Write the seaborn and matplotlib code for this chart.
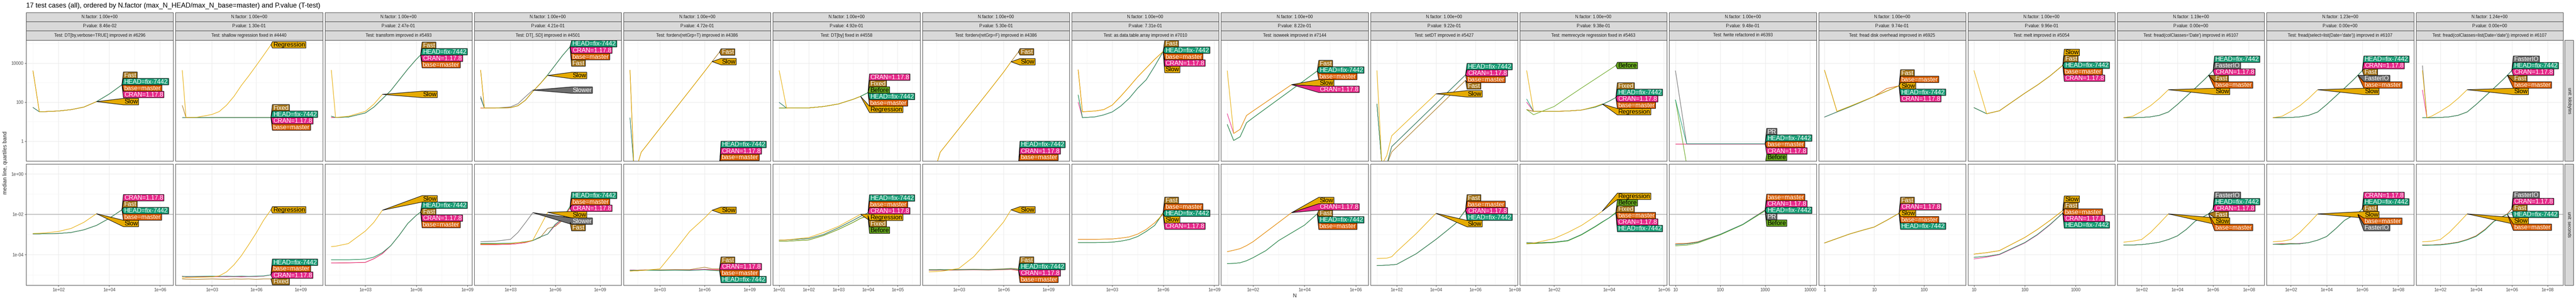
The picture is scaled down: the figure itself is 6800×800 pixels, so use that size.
import numpy as np
import pandas as pd
import matplotlib
matplotlib.use("Agg")
import matplotlib.pyplot as plt
from matplotlib.patches import Rectangle, Polygon
from matplotlib.ticker import FixedLocator, NullFormatter
import seaborn as sns

sns.set_style("white")
plt.rcParams["font.family"] = ["Liberation Sans", "DejaVu Sans"]

H = "HEAD=fix-7442"
B = "base=master"
C = "CRAN=1.17.8"
F = "Fast"
S = "Slow"
X = "Fixed"
R = "Regression"
BF = "Before"
SL = "Slower"
FI = "FasterIO"
PR = "PR"

palette = {H: "#1B9E77", B: "#D95F02", C: "#E7298A", F: "#A6761D", X: "#A6761D",
           S: "#E6AB02", R: "#E6AB02", BF: "#66A61E", SL: "#6E6E6E", FI: "#6E6E6E", PR: "#6E6E6E"}
dark_text = {S, R, BF}
draw_order = [FI, PR, SL, B, C, F, X, BF, H, S, R]

title = "17 test cases (all), ordered by N.factor (max_N_HEAD/max_N_base=master) and P.value (T-test)"
test_names = [
    "Test: DT[by,verbose=TRUE] improved in #6296",
    "Test: shallow regression fixed in #4440",
    "Test: transform improved in #5493",
    "Test: DT[,.SD] improved in #4501",
    "Test: forderv(retGrp=T) improved in #4386",
    "Test: DT[by] fixed in #4558",
    "Test: forderv(retGrp=F) improved in #4386",
    "Test: as.data.table.array improved in #7010",
    "Test: isoweek improved in #7144",
    "Test: setDT improved in #5427",
    "Test: memrecycle regression fixed in #5463",
    "Test: fwrite refactored in #6393",
    "Test: fread disk overhead improved in #6925",
    "Test: melt improved in #5054",
    "Test: fread(colClasses='Date') improved in #6107",
    "Test: fread(select=list(Date='date')) improved in #6107",
    "Test: fread(colClasses=list(Date='date')) improved in #6107",
]
n_factor = [1.0, 1.0, 1.0, 1.0, 1.0, 1.0, 1.0, 1.0, 1.0, 1.0, 1.0, 1.0, 1.0, 1.0, 1.19, 1.23, 1.24]
p_value = [0.0846, 0.130, 0.247, 0.421, 0.472, 0.492, 0.530, 0.731, 0.822, 0.922,
           0.938, 0.948, 0.974, 0.996, 0.0, 0.0, 0.0]

# x axis per panel (log10 limits, tick values, plain labels or not)
x_range = [(0.73, 6.52), (0.54, 10.5), (0.62, 9.27), (0.57, 10.44), (0.57, 10.43),
           (0.79, 5.76), (0.55, 10.42), (0.62, 9.27), (0.76, 6.48), (0.67, 8.14),
           (0.75, 6.11), (0.86, 4.14), (-0.12, 2.84), (0.88, 3.78), (0.64, 8.87),
           (0.64, 8.88), (0.64, 8.87)]
x_ticks = [[1e2, 1e4, 1e6], [1e3, 1e6, 1e9], [1e3, 1e6, 1e9], [1e3, 1e6, 1e9],
           [1e3, 1e6, 1e9], [1e1, 1e2, 1e3, 1e4, 1e5], [1e3, 1e6, 1e9], [1e3, 1e6, 1e9],
           [1e2, 1e4, 1e6], [1e2, 1e4, 1e6, 1e8], [1e2, 1e4, 1e6], [10, 100, 1000, 10000],
           [1, 10, 100], [10, 100, 1000], [1e2, 1e4, 1e6, 1e8], [1e2, 1e4, 1e6, 1e8],
           [1e2, 1e4, 1e6, 1e8]]
x_plain = [False] * 11 + [True, True, True, False, False, False]

units = ["kilobytes", "seconds"]
y_range = {"kilobytes": (-1.01, 5.18), "seconds": (-5.51, 0.49)}
y_ticks = {"kilobytes": [1, 100, 10000], "seconds": [1e-4, 1e-2, 1]}
seconds_limit = 0.01

# ---- measurements: log10(N) and log10(median) per expression ----
p01_logN = [1, 1.25, 1.5, 2, 2.5, 3, 3.5, 4, 4.5]
p01_kb = {
    F: [3.61, 1.51, 1.52, 1.55, 1.62, 1.75, 2.03, 2.42, 2.89],
    H: [1.73, 1.51, 1.52, 1.55, 1.62, 1.75, 2.03, 2.42, 2.89],
    B: [1.73, 1.51, 1.52, 1.55, 1.62, 1.75, 2.03, 2.42, 2.89],
    C: [1.73, 1.51, 1.52, 1.55, 1.62, 1.75, 2.03, 2.42, 2.89],
    S: [3.61, 1.51, 1.52, 1.55, 1.62, 1.75, 2.03],
}
p01_sec = {
    C: [-2.97, -2.97, -2.96, -2.95, -2.9, -2.77, -2.55, -2.2, -1.78],
    F: [-2.97, -2.97, -2.96, -2.95, -2.9, -2.77, -2.55, -2.2, -1.78],
    H: [-2.97, -2.97, -2.96, -2.95, -2.9, -2.77, -2.55, -2.2, -1.78],
    B: [-2.97, -2.97, -2.96, -2.95, -2.9, -2.77, -2.55, -2.2, -1.78],
    S: [-2.95, -2.94, -2.92, -2.85, -2.7, -2.4, -1.97],
}

p02_logN = [1, 1.25, 2, 3, 3.5, 4, 4.5, 5, 5.5, 6, 6.5, 7]
p02_kb = {
    R: [3.63, 1.22, 1.23, 1.37, 1.52, 1.85, 2.3, 2.86, 3.35, 3.87, 4.4, 4.94],
    X: [1.83, 1.22, 1.22, 1.22, 1.22, 1.22, 1.22, 1.22, 1.22, 1.22, 1.22, 1.22],
    H: [1.22, 1.22, 1.22, 1.22, 1.22, 1.22, 1.22, 1.22, 1.22, 1.22, 1.22, 1.22],
    C: [1.22, 1.22, 1.22, 1.22, 1.22, 1.22, 1.22, 1.22, 1.22, 1.22, 1.22, 1.22],
    B: [1.22, 1.22, 1.22, 1.22, 1.22, 1.22, 1.22, 1.22, 1.22, 1.22, 1.22, 1.22],
}
p02_sec = {
    H: [-5.07, -5.08, -5.07, -5.06, -5.07, -5.06, -5.07, -5.06, -5.07, -5.06, -5.05, -5.0],
    B: [-5.09, -5.08, -5.09, -5.08, -5.09, -5.08, -5.09, -5.08, -5.08, -5.07, -5.06, -5.0],
    C: [-5.06, -5.1, -5.08, -5.1, -5.08, -5.09, -5.08, -5.1, -5.08, -5.08, -5.06, -5.0],
    X: [-5.2, -5.21, -5.22, -5.2, -5.21, -5.22, -5.2, -5.21, -5.2, -5.22, -5.2, -5.2],
    R: [-5.15, -5.14, -5.12, -5.1, -5.05, -4.85, -4.5, -4.05, -3.5, -2.93, -2.3, -1.78],
}

p03_logN = [1, 1.25, 2, 3, 3.5, 4, 4.5, 5, 5.5, 6, 6.25]
p03_kb = {
    F: [1.28, 1.22, 1.24, 1.45, 1.75, 2.17, 2.6, 3.15, 3.7, 4.2, 4.42],
    H: [1.28, 1.22, 1.24, 1.45, 1.75, 2.17, 2.6, 3.15, 3.7, 4.2, 4.42],
    C: [1.22, 1.22, 1.24, 1.45, 1.75, 2.17, 2.6, 3.15, 3.7, 4.2, 4.42],
    B: [1.22, 1.22, 1.24, 1.45, 1.75, 2.17, 2.6, 3.15, 3.7, 4.2, 4.42],
    S: [3.64, 1.22, 1.28, 1.53, 1.9, 2.4],
}
p03_sec = {
    S: [-3.6, -3.58, -3.45, -2.83, -2.4, -1.8],
    H: [-4.25, -4.25, -4.25, -4.22, -4.12, -3.9, -3.55, -3.03, -2.45, -2.05, -1.89],
    F: [-4.25, -4.25, -4.25, -4.22, -4.12, -3.9, -3.55, -3.03, -2.45, -2.05, -1.89],
    C: [-4.41, -4.41, -4.4, -4.38, -4.2, -3.95, -3.55, -3.03, -2.45, -2.05, -1.89],
    B: [-4.41, -4.41, -4.4, -4.38, -4.2, -3.95, -3.55, -3.03, -2.45, -2.05, -1.89],
}

p04_logN = [1, 1.25, 2, 3, 3.5, 4, 4.5, 5, 5.5, 6, 6.5, 7]
p04_kb = {
    H: [2.22, 1.7, 1.7, 1.72, 1.82, 2.1, 2.55, 2.95, 3.4, 3.9, 4.4, 4.84],
    C: [2.2, 1.7, 1.7, 1.72, 1.82, 2.1, 2.55, 2.95, 3.4, 3.9, 4.4, 4.84],
    B: [1.7, 1.7, 1.7, 1.72, 1.82, 2.1, 2.55, 2.95, 3.4, 3.9, 4.4, 4.84],
    F: [3.64, 1.7, 1.7, 1.72, 1.82, 2.1, 2.55, 2.95, 3.4, 3.9, 4.4, 4.84],
    S: [3.64, 1.7, 1.7, 1.72, 1.82, 2.1, 2.55, 2.95, 3.37],
    SL: [2.3, 1.7, 1.7, 1.76, 1.92, 2.28, 2.62],
}
p04_sec = {
    H: [-3.44, -3.44, -3.44, -3.43, -3.4, -3.36, -3.3, -3.12, -2.98, -2.5, -2.2, -1.6],
    B: [-3.5, -3.5, -3.5, -3.48, -3.45, -3.4, -3.3, -3.12, -2.98, -2.5, -2.2, -1.65],
    C: [-3.5, -3.5, -3.5, -3.48, -3.45, -3.4, -3.3, -3.12, -2.98, -2.55, -2.25, -1.7],
    S: [-3.48, -3.48, -3.47, -3.45, -3.4, -3.38, -3.28, -2.6, -1.9],
    SL: [-3.36, -3.35, -3.33, -3.24, -2.9, -2.42, -1.92],
    F: [-3.46, -3.46, -3.46, -3.45, -3.4, -3.36, -3.3, -3.15, -2.7, -2.6, -2.3, -2.4],
}

p05_logN = [1, 1.25, 1.5, 1.75, 2, 3, 4, 5, 6, 6.5, 7]
p05_kb = {
    F: [3.64, -1.2, -1.2, -0.56, -0.32, 0.66, 1.63, 2.6, 3.58, 4.08, 4.57],
    S: [3.64, -1.2, -1.2, -0.56, -0.32, 0.66, 1.63, 2.6, 3.58, 4.08],
    H: [1.2, -1.2, -1.2, -1.2, -1.2, -1.2, -1.2, -1.2, -1.2, -1.2, -1.2],
    C: [1.2, -1.2, -1.2, -1.2, -1.2, -1.2, -1.2, -1.2, -1.2, -1.2, -1.2],
    B: [-1.2, -1.2, -1.2, -1.2, -1.2, -1.2, -1.2, -1.2, -1.2, -1.2, -1.2],
}
p05_sec = {
    S: [-4.82, -4.8, -4.8, -4.78, -4.77, -4.7, -3.8, -2.85, -2.18, -1.8],
    F: [-4.78, -4.77, -4.77, -4.76, -4.76, -4.75, -4.74, -4.74, -4.62, -4.7, -4.7],
    C: [-4.76, -4.76, -4.77, -4.76, -4.75, -4.76, -4.75, -4.76, -4.72, -4.74, -4.74],
    B: [-4.77, -4.77, -4.78, -4.77, -4.76, -4.77, -4.76, -4.77, -4.74, -4.76, -4.77],
    H: [-4.78, -4.78, -4.79, -4.78, -4.77, -4.78, -4.77, -4.78, -4.75, -4.78, -4.8],
}

p06_logN = [1, 1.25, 2, 2.5, 3, 3.5, 3.75, 4]
p06_kb = {
    C: [1.99, 1.7, 1.71, 1.78, 1.91, 2.15, 2.3, 2.49],
    X: [1.7, 1.7, 1.71, 1.78, 1.91, 2.15, 2.3, 2.49],
    BF: [1.7, 1.7, 1.71, 1.78, 1.91, 2.15, 2.3, 2.49],
    H: [1.99, 1.7, 1.71, 1.78, 1.91, 2.15, 2.3, 2.49],
    B: [1.7, 1.7, 1.71, 1.78, 1.91, 2.15, 2.3, 2.49],
    R: [3.62, 1.7, 1.71, 1.78, 1.91, 2.15, 2.3],
}
p06_sec = {
    H: [-3.28, -3.27, -3.2, -3.0, -2.67, -2.3, -2.1, -1.93],
    B: [-3.28, -3.27, -3.2, -3.0, -2.67, -2.3, -2.1, -1.93],
    C: [-3.28, -3.27, -3.2, -3.0, -2.67, -2.3, -2.1, -1.93],
    R: [-3.28, -3.27, -3.15, -2.9, -2.6, -2.2, -2.0],
    X: [-3.33, -3.33, -3.27, -3.05, -2.75, -2.4, -2.2, -2.05],
    BF: [-3.33, -3.33, -3.27, -3.05, -2.75, -2.4, -2.2, -2.1],
}

p07_logN = [1, 1.5, 1.75, 2, 3, 4, 5, 6, 6.5, 7]
p07_kb = {
    F: [-1.2, -1.2, -0.56, -0.32, 0.64, 1.6, 2.56, 3.54, 4.07, 4.58],
    S: [-1.2, -1.2, -0.56, -0.32, 0.64, 1.6, 2.56, 3.54, 4.07],
    H: [-1.2, -1.2, -1.2, -1.2, -1.2, -1.2, -1.2, -1.2, -1.2, -1.2],
    C: [-1.2, -1.2, -1.2, -1.2, -1.2, -1.2, -1.2, -1.2, -1.2, -1.2],
    B: [-1.2, -1.2, -1.2, -1.2, -1.2, -1.2, -1.2, -1.2, -1.2, -1.2],
}
p07_sec = {
    S: [-4.85, -4.83, -4.82, -4.8, -4.68, -4.1, -3.25, -2.38, -1.78],
    F: [-4.74, -4.74, -4.73, -4.74, -4.73, -4.72, -4.73, -4.7, -4.68, -4.7],
    H: [-4.75, -4.75, -4.74, -4.75, -4.74, -4.73, -4.74, -4.72, -4.7, -4.74],
    C: [-4.76, -4.76, -4.75, -4.76, -4.75, -4.74, -4.75, -4.73, -4.72, -4.76],
    B: [-4.77, -4.77, -4.76, -4.77, -4.76, -4.75, -4.76, -4.74, -4.73, -4.78],
}

p08_logN = [1, 1.25, 2, 2.5, 3, 3.5, 4, 4.5, 5, 5.5, 6]
p08_kb = {
    F: [2.37, 1.21, 1.25, 1.35, 1.5, 1.8, 2.2, 2.72, 3.15, 3.85, 4.6],
    H: [2.37, 1.21, 1.25, 1.35, 1.5, 1.8, 2.2, 2.72, 3.15, 3.85, 4.6],
    B: [3.66, 1.51, 1.55, 1.62, 1.85, 2.3, 2.79, 3.3, 3.75, 4.2, 4.6],
    C: [2.0, 1.21, 1.25, 1.35, 1.5, 1.8, 2.2, 2.72, 3.15, 3.85, 4.6],
    S: [3.66, 1.51, 1.55, 1.62, 1.85, 2.3, 2.79, 3.3, 3.75, 4.2, 4.6],
}
p08_sec = {
    F: [-3.4, -3.4, -3.4, -3.39, -3.38, -3.33, -3.25, -3.1, -2.85, -2.55, -1.9],
    B: [-3.4, -3.4, -3.4, -3.39, -3.38, -3.33, -3.25, -3.1, -2.85, -2.55, -1.92],
    H: [-3.4, -3.4, -3.4, -3.39, -3.38, -3.33, -3.25, -3.1, -2.85, -2.55, -1.95],
    S: [-3.24, -3.24, -3.24, -3.23, -3.22, -3.18, -3.12, -2.98, -2.75, -2.42, -1.98],
    C: [-3.24, -3.24, -3.24, -3.23, -3.22, -3.18, -3.12, -2.98, -2.75, -2.42, -2.0],
}

p09_logN = [1, 1.25, 1.5, 1.75, 2, 2.5, 3, 3.5, 4, 4.5]
p09_kb = {
    F: [0.86, 0.04, 0.23, 0.95, 1.2, 1.68, 2.16, 2.64, 3.12, 3.6],
    H: [0.86, 0.04, 0.23, 0.95, 1.2, 1.68, 2.16, 2.64, 3.12, 3.6],
    B: [0.86, 0.04, 0.23, 0.95, 1.2, 1.68, 2.16, 2.64, 3.12, 3.6],
    S: [3.61, 0.4, 0.61, 1.32, 1.55, 2.0, 2.45, 2.9],
    C: [1.41, 0.4, 0.61, 1.32, 1.55, 2.0, 2.45, 2.9],
}
p09_sec = {
    S: [-3.85, -3.78, -3.7, -3.55, -3.36, -2.88, -2.4, -1.92],
    C: [-3.85, -3.78, -3.7, -3.55, -3.36, -2.88, -2.4, -1.92],
    F: [-4.44, -4.43, -4.4, -4.3, -4.15, -3.8, -3.3, -2.92, -2.54, -1.98],
    H: [-4.44, -4.43, -4.4, -4.3, -4.15, -3.8, -3.3, -2.92, -2.54, -1.98],
    B: [-4.44, -4.43, -4.4, -4.3, -4.15, -3.8, -3.3, -2.92, -2.54, -1.98],
}

p10_logN = [1, 1.25, 1.5, 1.75, 2, 3, 4, 4.5, 5, 5.5]
p10_kb = {
    H: [1.91, -1.2, -1.2, -0.27, -0.03, 0.95, 1.93, 2.42, 2.91, 3.4],
    C: [1.91, -1.2, -1.2, -0.27, -0.03, 0.95, 1.93, 2.42, 2.91, 3.4],
    B: [1.91, -1.2, -1.2, -0.27, -0.03, 0.95, 1.93, 2.42, 2.91, 3.4],
    F: [1.91, -1.2, -1.2, -0.55, -0.3, 0.68, 1.65, 2.14, 2.63, 3.12],
    S: [3.62, -1.2, -0.73, 0.28, 0.52, 1.48, 2.43],
}
p10_sec = {
    F: [-4.54, -4.53, -4.52, -4.5, -4.48, -3.95, -3.24, -2.85, -2.45, -1.78],
    B: [-4.54, -4.53, -4.52, -4.5, -4.48, -3.95, -3.24, -2.85, -2.45, -1.79],
    C: [-4.54, -4.53, -4.52, -4.5, -4.48, -3.95, -3.24, -2.85, -2.45, -1.8],
    H: [-4.54, -4.53, -4.52, -4.5, -4.48, -3.95, -3.24, -2.85, -2.45, -1.81],
    S: [-4.19, -4.18, -4.17, -4.1, -3.85, -2.95, -1.95],
}

p11_logN = [1, 1.25, 2, 2.5, 3, 3.5, 3.75, 4, 4.25]
p11_kb = {
    BF: [1.62, 1.36, 1.78, 2.26, 2.73, 3.19, 3.42, 3.65, 3.88],
    X: [1.62, 1.53, 1.53, 1.55, 1.6, 1.75, 1.88, 2.05, 2.24],
    H: [2.16, 1.53, 1.53, 1.55, 1.6, 1.75, 1.88, 2.05, 2.24],
    C: [2.0, 1.53, 1.53, 1.55, 1.6, 1.75, 1.88, 2.05, 2.24],
    B: [1.62, 1.53, 1.53, 1.55, 1.6, 1.75, 1.88, 2.05, 2.24],
    R: [3.62, 1.53, 1.53, 1.55, 1.6, 1.78, 1.91],
}
p11_sec = {
    R: [-3.44, -3.43, -3.2, -2.9, -2.55, -2.1, -1.85],
    BF: [-3.46, -3.45, -3.4, -3.32, -3.02, -2.62, -2.4, -2.18, -1.9],
    X: [-3.46, -3.45, -3.4, -3.3, -3.0, -2.6, -2.38, -2.18, -1.91],
    B: [-3.4, -3.42, -3.38, -3.3, -3.0, -2.6, -2.38, -2.18, -1.92],
    C: [-3.4, -3.42, -3.38, -3.3, -3.0, -2.6, -2.38, -2.18, -1.93],
    H: [-3.4, -3.42, -3.38, -3.3, -3.0, -2.6, -2.38, -2.18, -1.94],
}

p12_logN = [1, 1.25, 1.5, 2, 2.5, 3]
p12_kb = {
    PR: [3.61, -0.13, -0.13, -0.13, -0.13, -0.13],
    H: [2.12, -0.13, -0.13, -0.13, -0.13, -0.13],
    B: [-0.13, -0.13, -0.13, -0.13, -0.13, -0.13],
    C: [-0.13, -0.13, -0.13, -0.13, -0.13, -0.13],
    BF: [2.12, -1.2, -1.2, -1.2, -1.2, -1.2],
}
p12_sec = {
    B: [-3.45, -3.44, -3.36, -2.99, -2.5, -1.78],
    C: [-3.5, -3.47, -3.38, -2.99, -2.5, -1.79],
    H: [-3.5, -3.47, -3.38, -2.99, -2.5, -1.8],
    PR: [-3.5, -3.47, -3.38, -2.99, -2.5, -1.81],
    BF: [-3.56, -3.53, -3.42, -3.02, -2.52, -1.83],
}

p13_logN = [0, 0.25, 0.5, 0.75, 1, 1.25, 1.5]
p13_kb = {
    F: [3.64, 1.53, 1.78, 2.04, 2.3, 2.57, 2.84],
    B: [1.24, 1.5, 1.75, 2.02, 2.3, 2.7, 2.84],
    S: [3.64, 1.53, 1.78, 2.04, 2.3, 2.57, 2.84],
    H: [1.24, 1.5, 1.75, 2.02, 2.3, 2.57, 2.84],
    C: [1.24, 1.5, 1.75, 2.02, 2.3, 2.57, 2.84],
}
p13_sec = {
    F: [-3.42, -3.2, -2.98, -2.8, -2.63, -2.3, -1.95],
    C: [-3.42, -3.2, -2.98, -2.8, -2.63, -2.3, -1.95],
    S: [-3.42, -3.2, -2.98, -2.8, -2.63, -2.3, -1.95],
    B: [-3.42, -3.2, -2.98, -2.8, -2.63, -2.3, -1.95],
    H: [-3.42, -3.2, -2.98, -2.8, -2.63, -2.3, -1.95],
}

p14_logN = [1, 1.25, 1.5, 2, 2.25, 2.5, 2.75]
p14_kb = {
    S: [3.62, 1.41, 1.56, 2.46, 2.88, 3.35, 3.89],
    F: [1.72, 1.41, 1.56, 2.46, 2.88, 3.35, 3.89],
    H: [1.72, 1.41, 1.56, 2.46, 2.88, 3.35, 3.89],
    B: [1.72, 1.41, 1.56, 2.46, 2.88, 3.35, 3.89],
    C: [1.72, 1.41, 1.56, 2.46, 2.88, 3.35, 3.89],
}
p14_sec = {
    S: [-3.97, -3.9, -3.8, -3.15, -2.75, -2.3, -1.81],
    F: [-3.97, -3.9, -3.8, -3.15, -2.75, -2.3, -1.82],
    B: [-4.13, -4.08, -3.98, -3.4, -3.0, -2.5, -1.93],
    C: [-4.21, -4.12, -4.0, -3.42, -3.02, -2.52, -1.94],
    H: [-4.13, -4.08, -3.98, -3.4, -3.0, -2.5, -1.95],
}

p15_logN = [1, 1.5, 2, 2.5, 3, 3.5, 4, 4.5, 5, 5.5, 5.75, 6]
p15_kb = {
    H: [1.21, 1.21, 1.22, 1.25, 1.33, 1.5, 1.88, 2.3, 2.72, 3.15, 3.38, 3.62],
    FI: [1.21, 1.21, 1.22, 1.25, 1.33, 1.5, 1.88, 2.3, 2.72, 3.15, 3.38, 3.62],
    C: [1.21, 1.21, 1.22, 1.25, 1.33, 1.5, 1.88, 2.3, 2.72, 3.15, 3.38, 3.62],
    F: [1.21, 1.21, 1.22, 1.25, 1.33, 1.5, 1.88, 2.3, 2.72, 3.15, 3.38],
    B: [1.21, 1.21, 1.22, 1.25, 1.33, 1.5, 1.88, 2.3, 2.72, 3.15, 3.38],
    S: [1.21, 1.28, 1.53, 1.82, 2.2, 2.64],
}
p15_sec = {
    FI: [-3.52, -3.52, -3.5, -3.45, -3.38, -3.25, -3.07, -2.75, -2.34, -2.1, -1.98, -1.73],
    H: [-3.52, -3.52, -3.5, -3.45, -3.38, -3.25, -3.07, -2.75, -2.34, -2.1, -1.98, -1.73],
    C: [-3.52, -3.52, -3.5, -3.45, -3.38, -3.25, -3.07, -2.75, -2.34, -2.1, -1.98, -1.73],
    F: [-3.52, -3.52, -3.5, -3.45, -3.38, -3.25, -3.07, -2.75, -2.34, -2.1, -1.97],
    S: [-3.38, -3.33, -3.25, -2.9, -2.45, -1.98],
    B: [-3.52, -3.52, -3.5, -3.45, -3.38, -3.25, -3.07, -2.75, -2.34, -2.1, -1.99],
}

p16_logN = [1, 1.5, 2, 2.5, 3, 3.5, 4, 4.5, 5, 5.5, 5.75, 6]
p16_kb = {
    H: [1.21, 1.21, 1.22, 1.25, 1.33, 1.5, 1.88, 2.3, 2.72, 3.15, 3.38, 3.62],
    C: [1.21, 1.21, 1.22, 1.25, 1.33, 1.5, 1.88, 2.3, 2.72, 3.15, 3.38, 3.62],
    F: [1.21, 1.21, 1.22, 1.25, 1.33, 1.5, 1.88, 2.3, 2.72, 3.15, 3.38, 3.62],
    FI: [1.21, 1.21, 1.22, 1.25, 1.33, 1.5, 1.88, 2.3, 2.72, 3.15, 3.38],
    B: [1.21, 1.21, 1.22, 1.25, 1.33, 1.5, 1.88, 2.3, 2.72, 3.15, 3.38],
    S: [1.21, 1.28, 1.53, 1.82, 2.2, 2.64],
}
p16_sec = {
    C: [-3.48, -3.45, -3.47, -3.44, -3.4, -3.28, -3.1, -2.72, -2.3, -2.05, -1.95, -1.73],
    H: [-3.48, -3.5, -3.47, -3.46, -3.4, -3.28, -3.1, -2.72, -2.3, -2.05, -1.95, -1.73],
    F: [-3.48, -3.47, -3.45, -3.46, -3.4, -3.28, -3.1, -2.72, -2.3, -2.05, -1.95, -1.73],
    S: [-3.36, -3.33, -3.25, -2.9, -2.45, -1.98],
    B: [-3.48, -3.48, -3.47, -3.46, -3.4, -3.28, -3.1, -2.72, -2.3, -2.05, -2.0],
    FI: [-3.48, -3.47, -3.44, -3.46, -3.4, -3.28, -3.1, -2.72, -2.3, -2.05, -2.02],
}

p17_logN = [1, 1.25, 1.5, 2, 2.5, 3, 3.5, 4, 4.5, 5, 5.5, 5.75, 6]
p17_kb = {
    FI: [3.87, 1.21, 1.21, 1.22, 1.25, 1.33, 1.5, 1.88, 2.3, 2.72, 3.15, 3.38, 3.62],
    H: [1.21, 1.21, 1.21, 1.22, 1.25, 1.33, 1.5, 1.88, 2.3, 2.72, 3.15, 3.38, 3.62],
    C: [2.62, 1.21, 1.21, 1.22, 1.25, 1.33, 1.5, 1.88, 2.3, 2.72, 3.15, 3.38, 3.62],
    F: [1.21, 1.21, 1.21, 1.22, 1.25, 1.33, 1.5, 1.88, 2.3, 2.72, 3.15, 3.38],
    B: [1.21, 1.21, 1.21, 1.22, 1.25, 1.33, 1.5, 1.88, 2.3, 2.72, 3.15, 3.38],
    S: [3.62, 1.21, 1.28, 1.53, 1.82, 2.2, 2.64],
}
p17_sec = {
    FI: [-3.52, -3.52, -3.52, -3.5, -3.45, -3.38, -3.25, -3.07, -2.75, -2.34, -2.1, -1.98, -1.72],
    C: [-3.52, -3.52, -3.52, -3.5, -3.45, -3.38, -3.25, -3.07, -2.75, -2.34, -2.1, -1.98, -1.73],
    F: [-3.52, -3.52, -3.52, -3.5, -3.45, -3.38, -3.25, -3.07, -2.75, -2.34, -2.1, -1.98, -1.74],
    H: [-3.54, -3.54, -3.53, -3.52, -3.47, -3.4, -3.27, -3.1, -2.78, -2.36, -2.12, -2.0, -1.9],
    S: [-3.36, -3.35, -3.33, -3.25, -2.9, -2.45, -1.98],
    B: [-3.52, -3.52, -3.52, -3.5, -3.45, -3.38, -3.25, -3.07, -2.75, -2.34, -2.1, -2.0],
}

panel_logN = [p01_logN, p02_logN, p03_logN, p04_logN, p05_logN, p06_logN, p07_logN, p08_logN,
              p09_logN, p10_logN, p11_logN, p12_logN, p13_logN, p14_logN, p15_logN, p16_logN, p17_logN]
panel_kb = [p01_kb, p02_kb, p03_kb, p04_kb, p05_kb, p06_kb, p07_kb, p08_kb, p09_kb,
            p10_kb, p11_kb, p12_kb, p13_kb, p14_kb, p15_kb, p16_kb, p17_kb]
panel_sec = [p01_sec, p02_sec, p03_sec, p04_sec, p05_sec, p06_sec, p07_sec, p08_sec, p09_sec,
             p10_sec, p11_sec, p12_sec, p13_sec, p14_sec, p15_sec, p16_sec, p17_sec]

# long table for seaborn
records = []
for p in range(17):
    for unit, table in (("kilobytes", panel_kb[p]), ("seconds", panel_sec[p])):
        for expr, vals in table.items():
            for ln, v in zip(panel_logN[p], vals):
                records.append((p, unit, expr, 10.0 ** ln, 10.0 ** v))
df = pd.DataFrame(records, columns=["panel", "unit", "expr", "N", "value"])

# ---- layout (pixels) ----
W, HT = 6800, 800
fig = plt.figure(figsize=(W / 100, HT / 100), dpi=100)
left_px, right_px, gap_px = 69, 6766, 6
pw = (right_px - left_px - 16 * gap_px) / 17
row_px = [(106, 425), (433, 753)]
strip_px = [(33.5, 57), (57.5, 81), (81.5, 105.5)]


def fbox(x0, y_top, x1, y_bot):
    return [x0 / W, 1 - y_bot / HT, (x1 - x0) / W, (y_bot - y_top) / HT]


renderer = fig.canvas.get_renderer()
_widths = {}


def text_width(s, size):
    if s not in _widths:
        t = fig.text(0, 0, s, fontsize=size)
        _widths[s] = t.get_window_extent(renderer).width
        t.remove()
    return _widths[s]


def stack(desired, h):
    clusters = [[d] for d in desired]

    def centers(cl):
        m = sum(cl) / len(cl)
        n = len(cl)
        return [m + ((n - 1) / 2 - k) * h for k in range(n)]

    merged = True
    while merged:
        merged = False
        for k in range(len(clusters) - 1):
            if centers(clusters[k])[-1] - h < centers(clusters[k + 1])[0]:
                clusters[k] = clusters[k] + clusters.pop(k + 1)
                merged = True
                break
    return [c for cl in clusters for c in centers(cl)]


def add_labels(ax, logN, table):
    h, gap, pad, size = 17.0, 4.0, 2.0, 12
    ends = []
    for k, (name, vals) in enumerate(table.items()):
        px, py = ax.transData.transform((10.0 ** logN[len(vals) - 1], 10.0 ** vals[-1]))
        ends.append((-round(py, 3), k, name, px, py))
    ends.sort()
    out = stack([e[4] for e in ends], h)
    bb = ax.get_window_extent(renderer)
    top, bot = bb.y1 - h / 2 - 1, bb.y0 + h / 2 + 1
    for i in range(len(out)):
        out[i] = min(out[i], top if i == 0 else out[i - 1] - h)
    for i in reversed(range(len(out))):
        out[i] = max(out[i], bot if i == len(out) - 1 else out[i + 1] + h)
    bx = max(e[3] for e in ends) + gap
    inv = ax.transAxes.inverted()
    for (_, _, name, px, py), cy in zip(ends, out):
        w = text_width(name, size) + 2 * pad
        pts = [(px, py), (bx, cy + h / 2), (bx + w, cy + h / 2), (bx + w, cy - h / 2), (bx, cy - h / 2)]
        ax.add_patch(Polygon(inv.transform(pts), closed=True, transform=ax.transAxes,
                             facecolor=palette[name], edgecolor="black", lw=0.9, zorder=5))
        tx, ty = inv.transform((bx + pad, cy - 0.5))
        ax.text(tx, ty, name, transform=ax.transAxes, ha="left", va="center", fontsize=size,
                color="black" if name in dark_text else "white", zorder=6, clip_on=True)


def minor_of(ticks_log, lo, hi):
    d = ticks_log[1] - ticks_log[0]
    cand = [t - d / 2 for t in ticks_log] + [ticks_log[-1] + d / 2]
    return [10.0 ** c for c in cand if lo <= c <= hi]


axes = {}
for p in range(17):
    x0 = left_px + p * (pw + gap_px)
    x1 = x0 + pw
    for r, unit in enumerate(units):
        ax = fig.add_axes(fbox(x0, row_px[r][0], x1, row_px[r][1]))
        axes[(p, r)] = ax
        table = panel_kb[p] if unit == "kilobytes" else panel_sec[p]
        order = [e for e in draw_order if e in table]
        sub = df[(df["panel"] == p) & (df["unit"] == unit)]
        sns.lineplot(data=sub, x="N", y="value", hue="expr", hue_order=order,
                     palette={e: palette[e] for e in order}, estimator=None,
                     lw=1.0, legend=False, ax=ax, zorder=3)
        ax.set_xscale("log")
        ax.set_yscale("log")
        lo, hi = x_range[p]
        ax.set_xlim(10.0 ** lo, 10.0 ** hi)
        ylo, yhi = y_range[unit]
        ax.set_ylim(10.0 ** ylo, 10.0 ** yhi)
        ax.set_xlabel("")
        ax.set_ylabel("")
        if unit == "seconds":
            ax.axhline(seconds_limit, color="#BDBDBD", lw=1.6, zorder=2)

        xt = x_ticks[p]
        ax.xaxis.set_major_locator(FixedLocator(xt))
        ax.xaxis.set_minor_locator(FixedLocator(minor_of(list(np.log10(xt)), lo, hi)))
        ax.xaxis.set_minor_formatter(NullFormatter())
        ax.set_xticklabels([str(int(v)) if x_plain[p] else f"{v:.0e}" for v in xt])
        yt = y_ticks[unit]
        ax.yaxis.set_major_locator(FixedLocator(yt))
        ax.yaxis.set_minor_locator(FixedLocator(minor_of(list(np.log10(yt)), ylo, yhi)))
        ax.yaxis.set_minor_formatter(NullFormatter())
        ax.set_yticklabels([str(int(v)) if unit == "kilobytes" else f"{v:.0e}" for v in yt])

        ax.grid(which="major", color="#EBEBEB", lw=1.0)
        ax.grid(which="minor", color="#F2F2F2", lw=0.6)
        ax.set_axisbelow(True)
        for sp in ax.spines.values():
            sp.set_color("#333333")
            sp.set_linewidth(0.8)
        ax.tick_params(which="minor", length=0)
        ax.tick_params(which="major", length=3, width=0.7, color="#333333",
                       labelsize=8.4, labelcolor="#4D4D4D", pad=2)
        ax.tick_params(axis="x", bottom=(r == 1), labelbottom=(r == 1))
        ax.tick_params(axis="y", left=(p == 0), labelleft=(p == 0))

        add_labels(ax, panel_logN[p], table)

    # facet strips on top
    strip_texts = [f"N.factor: {n_factor[p]:.2e}", f"P.value: {p_value[p]:.2e}", test_names[p]]
    for (ya, yb), txt in zip(strip_px, strip_texts):
        fig.add_artist(Rectangle((x0 / W, 1 - yb / HT), pw / W, (yb - ya) / HT,
                                 transform=fig.transFigure, facecolor="#D9D9D9",
                                 edgecolor="#333333", lw=0.8))
        fig.text((x0 + pw / 2) / W, 1 - (ya + yb) / 2 / HT, txt, ha="center", va="center",
                 fontsize=8.3, color="#1A1A1A")

# unit strips on the right
for r, unit in enumerate(units):
    ya, yb = row_px[r]
    fig.add_artist(Rectangle((6770 / W, 1 - yb / HT), 23 / W, (yb - ya) / HT,
                             transform=fig.transFigure, facecolor="#D9D9D9",
                             edgecolor="#333333", lw=0.8))
    fig.text(6781.5 / W, 1 - (ya + yb) / 2 / HT, f"unit: {unit}", rotation=-90,
             ha="center", va="center", fontsize=8.3, color="#1A1A1A")

fig.text(left_px / W, 1 - 15 / HT, title, ha="left", va="center", fontsize=13, color="black")
fig.text((left_px + right_px) / 2 / W, 1 - 781 / HT, "N", ha="center", va="center", fontsize=10)
fig.text(14 / W, 1 - 430 / HT, "median line, quartiles band", rotation=90,
         ha="center", va="center", fontsize=10)

fig.savefig("out.png", dpi=100)
